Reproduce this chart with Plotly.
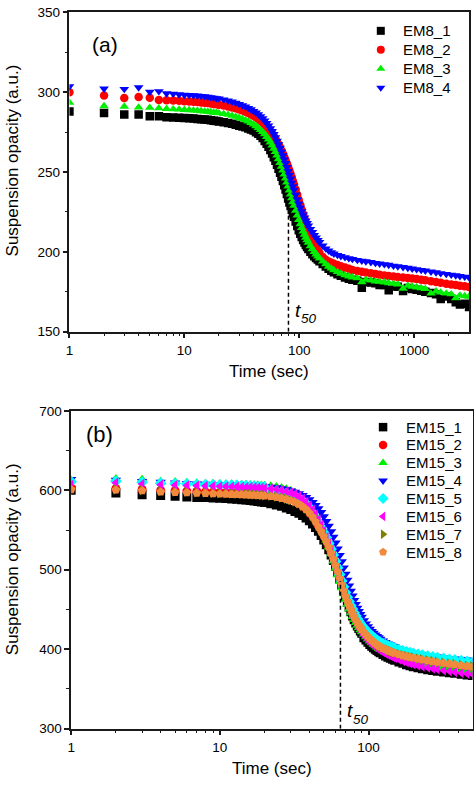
import plotly.graph_objects as go
import numpy as np

# ---------------- Panel (a) data ----------------
time_a = [1,2,3,4,5,6,7,8,9,10,11,12,13,14,15,16,17,18,19,20,
          22,24,26,28,30,32,34,36,38,40,
          42,44,46,48,50,52,54,56,58,60,
          62,64,66,68,70,72,74,76,78,80,
          82,84,86,88,90,
          93,96,99,102,105,108,111,114,117,120,
          125,130,135,140,145,150,
          160,170,180,190,200,
          215,230,250,270,290,320,350,380,420,460,
          500,550,600,660,720,800,880,960,1050,1150,
          1250,1400,1550,1700,1900,2100,2300,2500,2750,3000]

em8_1 = [288,287,286,286,285,285,284.3,284.2,284,283.9,283.7,283.5,283.3,283.1,282.9,282.7,282.5,282.2,282,281.7,
         281.2,280.7,280.2,279.6,279,278.5,278,277.3,276.7,276,
         275,274,272.8,271.3,269.5,267.7,265.8,263.8,261.6,259.3,
         257,254.6,252.1,249.6,247,244.4,241.7,239,236.2,233.4,
         231,228.7,226.4,224.2,222,
         219,216.2,213.6,211.4,209.3,207.5,205.8,204.3,203,201.8,
         200,198.5,197.3,196.2,195.2,194.2,
         192.4,190.8,189.4,188.2,187.2,
         186,185,184,183.2,182.5,181.9,177.5,181.2,180.8,180.4,
         179.3,179.3,176,178.5,178.2,175.5,177.4,176.8,176.2,175.6,
         175,174.2,173.4,170.5,172,170.5,168.5,167,167.5,165.5]

em8_2 = [300,298,296.4,297,296.6,295.2,295,294.8,294.6,294.4,294.2,294,293.8,293.6,293.4,293.2,293,292.7,292.4,292.2,
         291.7,291.1,290.5,289.9,289.2,288.5,287.8,287,286.1,285.2,
         284.3,283.3,282.2,281,279.8,278.5,277.1,275.6,274.1,272.5,
         270.8,269,267.2,265.3,263.4,261.4,259.4,257.3,255.2,253.1,
         251,248.8,246.6,244.4,242.2,
         239,235.7,232.5,229.4,226.4,223.6,220.9,218.3,215.9,213.7,
         210.4,207.5,205,202.8,200.9,199.3,
         196.8,195,193.9,193.2,192.6,
         191.8,191,190.2,189.4,188.7,188,187.5,187.1,186.6,186.1,
         185.6,185.2,184.9,184.6,184.3,184,183.7,183.3,183,182.6,
         182.2,181.6,181.1,180.6,180,179.6,179.2,178.8,178.4,178]

em8_3 = [293.5,291.3,291,290.5,290.3,290,289.6,289.4,289.2,289,288.8,288.6,288.4,288.2,288,287.8,287.6,287.3,287.1,286.9,
         286.4,285.9,285.3,284.7,284,283.3,282.5,281.7,280.8,279.8,
         278.8,277.6,276.4,275.1,273.7,272.1,270.4,268.6,266.7,264.7,
         262.6,260.4,258.1,255.8,253.4,251,248.6,246.1,243.6,241.1,
         238.5,236,233.6,231.2,229,
         225.8,222.8,220,217.4,215,212.8,210.8,209,207.3,205.8,
         203.6,201.7,200,198.5,197.2,196,
         194,192.3,190.8,189.6,188.6,
         187.4,186.4,185.4,184.7,184.1,183.5,181,182.6,182.1,181.6,
         181.3,180.9,180.5,180.1,179.7,177,178.8,178.3,177.8,177.3,
         176.8,174,175.3,174.6,174,173.5,171,172.7,172.3,172]

em8_4 = [303.6,302.2,302,303,300.2,300.6,299.2,299,298.6,298.3,298.2,298,297.8,297.6,297.4,297.1,296.8,296.5,296.2,296,
         295.4,294.8,294.1,293.4,292.6,291.8,291,290.1,289.2,288.2,
         287.2,286.1,284.9,283.6,282.2,280.7,279.1,277.4,275.6,273.7,
         271.7,269.6,267.4,265.1,262.8,260.4,258,255.6,253.1,250.6,
         248.2,245.8,243.4,241.1,238.9,
         235.8,232.9,230.2,227.7,225.4,223.3,221.4,219.6,218,216.5,
         214.3,212.3,210.5,208.9,207.4,206.1,
         203.9,202.1,200.7,199.7,198.9,
         198,197.3,196.6,196,195.5,194.9,194.4,194,193.5,193,
         192.6,192.2,191.8,191.3,190.9,190.4,189.9,189.5,189.1,188.6,
         188.2,187.6,187.1,186.6,186.1,185.6,185.2,184.8,184.4,184]

t50_a = 80.5
t50_a_level = 224

# ---------------- Panel (b) data ----------------
time_b = [1,2,3,4,5,6,7,8,9,10,11,12,13,14,15,16,17,18,19,20,
          22,24,26,28,30,32,34,36,38,40,
          42,44,46,48,50,52,54,56,58,60,
          62,64,66,68,70,72,74,76,78,80,
          82,84,86,88,90,
          93,96,99,102,105,108,111,114,117,120,
          125,130,135,140,145,150,
          160,170,180,190,200,
          215,230,250,270,290,320,350,380,420,460,500]

em15_1 = [600,596.5,594.5,593.5,592.5,591.5,591,590.8,590.4,590,589.6,589.2,588.7,588.2,587.7,587.1,586.5,585.9,585.2,584.5,
          583.2,581.6,579.8,577.8,575.7,573.4,571,568.3,565.2,561.7,
          557.7,553.3,548.4,543.2,537.6,531.6,525.3,518.6,511.6,504.3,
          496.8,489,481.2,473.6,466.3,459.5,453.2,447.3,441.8,437,
          433,429.3,426,423,420.2,
          414.5,411.5,408.7,406,403.8,401.8,400,398.3,396.8,395.4,
          393.4,391.6,390,388.6,387.3,386.1,
          384,382.2,380.6,379.2,378,
          376.6,375.4,374.2,373.2,372.4,371.3,370.4,369.6,368.6,367.6,366.8]

em15_2 = [603,602,601,600,599.5,599,598.5,598,597.6,597.2,597,596.8,596.6,596.4,596.2,595.9,595.6,595.3,595,594.7,
          594,593,591.7,590.2,588.5,586.4,583.8,580.7,577.1,572.8,
          567.8,562,555.7,549.5,543.3,536.8,529.8,522.4,514.8,507,
          499,491,483,475.5,468.5,462.3,456.6,451.4,446.7,442.3,
          438.3,434.7,431.4,428.5,425.9,
          422.4,419.3,416.6,414.1,411.9,409.9,408.1,406.5,405,403.7,
          401.9,400.3,399,397.8,396.7,395.7,
          394,392.6,391.4,390.4,389.5,
          388.3,387.3,386.1,385.1,384.2,383.1,382.1,381.2,380.2,379.2,378.4]

em15_3 = [613,615,614,611.5,611,610,609.5,609,608.8,608.5,608.3,608.1,607.9,607.7,607.5,607.3,607.1,606.9,606.7,606.5,
          605.8,604.8,603.5,602,600,597.5,594.5,591,586.7,581.5,
          575.5,568.7,561.3,553.5,545.3,537,528.5,519.7,510.8,502,
          493.3,485,477,469.5,462.5,456.2,450.6,445.5,441,437,
          433.3,430,427,424.3,421.8,
          418.4,415.4,412.6,410.1,407.9,405.9,404.1,402.5,401,399.6,
          397.7,396,394.5,393.2,392,390.9,
          389,387.4,386,384.8,383.8,
          382.5,381.4,380.1,379,378,376.7,375.5,374.4,373.1,372,371]

em15_4 = [614,613,611.5,610.5,609.5,608.8,608.3,608,607.7,607.4,607.2,607,606.8,606.6,606.4,606.1,605.8,605.5,605.2,604.9,
          604.2,603.4,602.4,601.3,599.5,598,596,593.8,591.2,588.3,
          585,581.3,577,572.3,567,561.2,555,548.3,541.3,534,
          526.3,518.4,510.5,502.6,494.8,487.2,480,473.3,467.2,461.6,
          456.6,452,447.8,444,440.6,
          436,432,428.5,425.4,422.7,420.3,418.2,416.3,414.6,413,
          410.7,408.7,407,405.5,404.2,403,
          401,399.3,397.9,396.7,395.6,
          394.5,393.4,392.2,391.2,390.4,389.4,388.6,387.9,387.2,386.6,386]

em15_5 = [611,611.5,610,609,608.5,608,607.6,607.3,607,606.7,606.5,606.3,606.1,605.8,605.5,605.2,604.9,604.6,604.3,604,
          600,599,597.8,596.3,594.5,592.5,590,587,583.5,578.5,
          571,565.5,559,553,547,540.5,533.5,526,518.5,510.5,
          502.5,494,486,478.5,471.5,465.5,460,455,450.5,446,
          442,438.5,435.3,432.5,430,
          427,424,421.3,419,416.8,414.8,413,411.4,410,408.7,
          407,405.5,404.2,403,402,401,
          399.2,397.8,396.6,395.6,394.8,
          393.6,392.6,391.4,390.4,389.5,388.4,387.4,386.6,385.6,384.6,383.8]

em15_6 = [607,609.5,608,607,606.5,606,605.7,605.5,605.3,605,604.8,604.6,604.4,604.2,604,603.8,603.6,603.4,603.1,602.8,
          602.1,601.2,600,598.6,597,595,592.5,589.4,585.6,581,
          575.7,569.7,563.2,556.2,548.8,541,533,524.8,516.4,508,
          499.6,491.3,483.3,475.6,468.3,461.5,455.3,449.6,444.4,439.7,
          435.4,431.5,428,424.8,421.9,
          418,414.7,411.8,409.2,406.9,404.8,403,401.3,399.8,398.4,
          396.4,394.6,393,391.6,390.3,389.1,
          387,385.2,383.6,382.2,381,
          379.5,378.2,376.8,375.6,374.6,373.3,372.2,371.2,370.1,369.2,368.5]

em15_7 = [602,601,600,599,598.5,598,597.5,597.1,596.7,596.3,596.1,595.9,595.7,595.5,595.3,595,594.7,594.4,594.1,593.8,
          593.1,592.1,590.8,589.3,587.7,585.7,583.2,580.2,576.7,572.3,
          567.3,561.4,555,549,543,536.5,529.5,522,514.5,506.5,
          498.5,490,482,474.5,467.5,461.4,455.8,450.7,446.1,441.7,
          437.7,434.2,431,428.2,425.6,
          422.1,419.1,416.4,414,411.8,409.8,408,406.4,404.9,403.6,
          401.8,400.3,399,397.8,396.7,395.7,
          394,392.6,391.4,390.4,389.6,
          388.4,387.4,386.2,385.2,384.3,383.2,382.2,381.4,380.4,379.4,378.6]

em15_8 = [601,600.5,599.5,598,597.5,597,596.5,596.2,595.8,595.4,595.2,595,594.8,594.6,594.4,594.1,593.8,593.5,593.2,593,
          592.3,591.3,590,588.6,587,585,582.5,579.5,576,571.5,
          566.5,560.5,554,548,542,535.5,528.5,521,513.5,505.5,
          497.5,489,481,473.5,466.5,460.5,455,450,445.5,441,
          437,433.5,430.3,427.5,425,
          421.5,418.5,415.8,413.4,411.2,409.2,407.4,405.8,404.3,403,
          401.2,399.7,398.4,397.2,396.1,395.1,
          393.4,392,390.8,389.8,389,
          387.8,386.8,385.6,384.6,383.7,382.6,381.6,380.8,379.8,378.8,378]

t50_b = 64.7
t50_b_level = 486

names_a = ["EM8_1", "EM8_2", "EM8_3", "EM8_4"]
names_b = ["EM15_1", "EM15_2", "EM15_3", "EM15_4", "EM15_5", "EM15_6", "EM15_7", "EM15_8"]
x_ticks_a = [1, 10, 100, 1000]
x_ticks_b = [1, 10, 100]

# ---------------- styles ----------------
FONT = "Liberation Sans, Arial, sans-serif"
W, H = 474, 787
colors_a = ["#000000", "#FF0000", "#00EE00", "#0000FF"]
symbols_a = ["square", "circle", "triangle-up", "triangle-down"]
colors_b = ["#000000", "#FF0000", "#00EE00", "#0000FF", "#00FFFF", "#FF00FF", "#808000", "#F08A3C"]
symbols_b = ["square", "circle", "triangle-up", "triangle-down", "diamond",
             "triangle-left", "triangle-right", "pentagon"]
size_a, size_b = 8.5, 9

# legend layout (pixel positions of the hand-made legends)
leg_a = dict(mx=380, tx=400, y0=24.3, step=19.35, msize=8)
leg_b = dict(mx=382.3, tx=403, y0=428.3, step=18.2, msize=8.5)

fig = go.Figure()

series_a = [em8_1, em8_2, em8_3, em8_4]
for name, vals, c, s in zip(names_a, series_a, colors_a, symbols_a):
    fig.add_trace(go.Scatter(
        x=time_a, y=vals, mode="markers", xaxis="x", yaxis="y", name=name,
        showlegend=False,
        marker=dict(symbol=s, size=size_a, color=c, line=dict(width=0))))

series_b = [em15_1, em15_2, em15_3, em15_4, em15_5, em15_6, em15_7, em15_8]
for name, vals, c, s in zip(names_b, series_b, colors_b, symbols_b):
    fig.add_trace(go.Scatter(
        x=time_b, y=vals, mode="markers", xaxis="x2", yaxis="y2", name=name,
        showlegend=False,
        marker=dict(symbol=s, size=size_b, color=c, line=dict(width=0))))

# t50 dashed markers
fig.add_trace(go.Scatter(x=[t50_a, t50_a], y=[150, t50_a_level], mode="lines",
                         xaxis="x", yaxis="y", showlegend=False,
                         line=dict(color="black", width=1.5, dash="4px,3px")))
fig.add_trace(go.Scatter(x=[t50_b, t50_b], y=[300, t50_b_level], mode="lines",
                         xaxis="x2", yaxis="y2", showlegend=False,
                         line=dict(color="black", width=1.5, dash="4px,3px")))

# hand-made legends: symbols on an invisible pixel overlay, text as annotations
annos = []
for leg, names, colors, symbols in ((leg_a, names_a, colors_a, symbols_a),
                                    (leg_b, names_b, colors_b, symbols_b)):
    for i, (n, c, s) in enumerate(zip(names, colors, symbols)):
        yy = leg["y0"] + i * leg["step"]
        fig.add_trace(go.Scatter(x=[leg["mx"]], y=[yy], mode="markers", xaxis="x3", yaxis="y3",
                                 showlegend=False, hoverinfo="skip",
                                 marker=dict(symbol=s, size=leg["msize"], color=c, line=dict(width=0))))
        annos.append(dict(text=n, x=leg["tx"] / W, y=1 - yy / H, xanchor="left", yanchor="middle",
                          font=dict(size=15)))

def px_x(p): return p / W
def px_y(p): return 1 - p / H

minor_a = [v * d for d in (1, 10, 100, 1000) for v in range(2, 10) if v * d < 3000]
minor_b = [v * d for d in (1, 10, 100) for v in range(2, 10) if v * d < 500]

axis_common = dict(showline=True, linecolor="#1a1a1a", linewidth=1.5, mirror=True,
                   ticks="outside", ticklen=5, tickwidth=1.5, tickcolor="#1a1a1a",
                   showgrid=False, zeroline=False,
                   tickfont=dict(family=FONT, size=13.5, color="black"))

fig.update_layout(
    width=W, height=H, margin=dict(l=0, r=0, t=0, b=0),
    paper_bgcolor="white", plot_bgcolor="rgba(0,0,0,0)",
    font=dict(family=FONT, color="black"),
    showlegend=False,
    xaxis=dict(domain=[px_x(66), px_x(469)], type="log", range=[0, np.log10(3000)],
               anchor="y", tickmode="array", tickvals=x_ticks_a,
               ticktext=[str(v) for v in x_ticks_a],
               minor=dict(tickmode="array", tickvals=minor_a, ticks="outside", ticklen=3,
                          tickwidth=1, tickcolor="#1a1a1a"),
               **axis_common),
    yaxis=dict(domain=[px_y(331), px_y(5.5)], range=[150, 350], anchor="x",
               dtick=50, tick0=150,
               minor=dict(dtick=25, ticks="outside", ticklen=3, tickwidth=1, tickcolor="#1a1a1a"),
               **axis_common),
    xaxis2=dict(domain=[px_x(67.7), px_x(472.5)], type="log", range=[0, np.log10(500)],
                anchor="y2", tickmode="array", tickvals=x_ticks_b,
                ticktext=[str(v) for v in x_ticks_b],
                minor=dict(tickmode="array", tickvals=minor_b, ticks="outside", ticklen=3,
                           tickwidth=1, tickcolor="#1a1a1a"),
                **axis_common),
    yaxis2=dict(domain=[px_y(735.7), px_y(411.7)], range=[300, 700], anchor="x2",
                dtick=100, tick0=300,
                minor=dict(dtick=50, ticks="outside", ticklen=3, tickwidth=1, tickcolor="#1a1a1a"),
                **axis_common),
    xaxis3=dict(domain=[0, 1], range=[0, W], visible=False, anchor="y3", fixedrange=True),
    yaxis3=dict(domain=[0, 1], range=[H, 0], visible=False, anchor="x3", fixedrange=True),
)

annos += [
    dict(text="(a)", x=px_x(87), y=px_y(38), xanchor="left", yanchor="middle", font=dict(size=21)),
    dict(text="(b)", x=px_x(81), y=px_y(436), xanchor="left", yanchor="middle", font=dict(size=22)),
    dict(text="Time (sec)", x=px_x(267.5), y=px_y(371.7), xanchor="center", yanchor="middle", font=dict(size=17)),
    dict(text="Time (sec)", x=px_x(270.5), y=px_y(776.7), xanchor="center", yanchor="middle", font=dict(size=17)),
    dict(text="Suspension opacity (a.u.)", x=px_x(8.5), y=px_y(156), textangle=-90,
         xanchor="center", yanchor="middle", font=dict(size=17)),
    dict(text="Suspension opacity (a.u.)", x=px_x(8.5), y=px_y(562.5), textangle=-90,
         xanchor="center", yanchor="middle", font=dict(size=17)),
    # t50 labels: italic "t" with a smaller, lowered "50"
    dict(text="t", x=px_x(291.5), y=px_y(309.5), xanchor="left", yanchor="middle",
         font=dict(size=19, style="italic")),
    dict(text="50", x=px_x(297.5), y=px_y(318), xanchor="left", yanchor="middle",
         font=dict(size=13.5, style="italic")),
    dict(text="t", x=px_x(343.5), y=px_y(717.5), xanchor="left", yanchor="middle",
         font=dict(size=19, style="italic")),
    dict(text="50", x=px_x(349.5), y=px_y(726), xanchor="left", yanchor="middle",
         font=dict(size=13.5, style="italic")),
]
for a in annos:
    a.update(xref="paper", yref="paper", showarrow=False)
    a["font"] = dict(family=FONT, color="black", **a["font"])
fig.update_layout(annotations=annos)

fig.write_html("out.html")
